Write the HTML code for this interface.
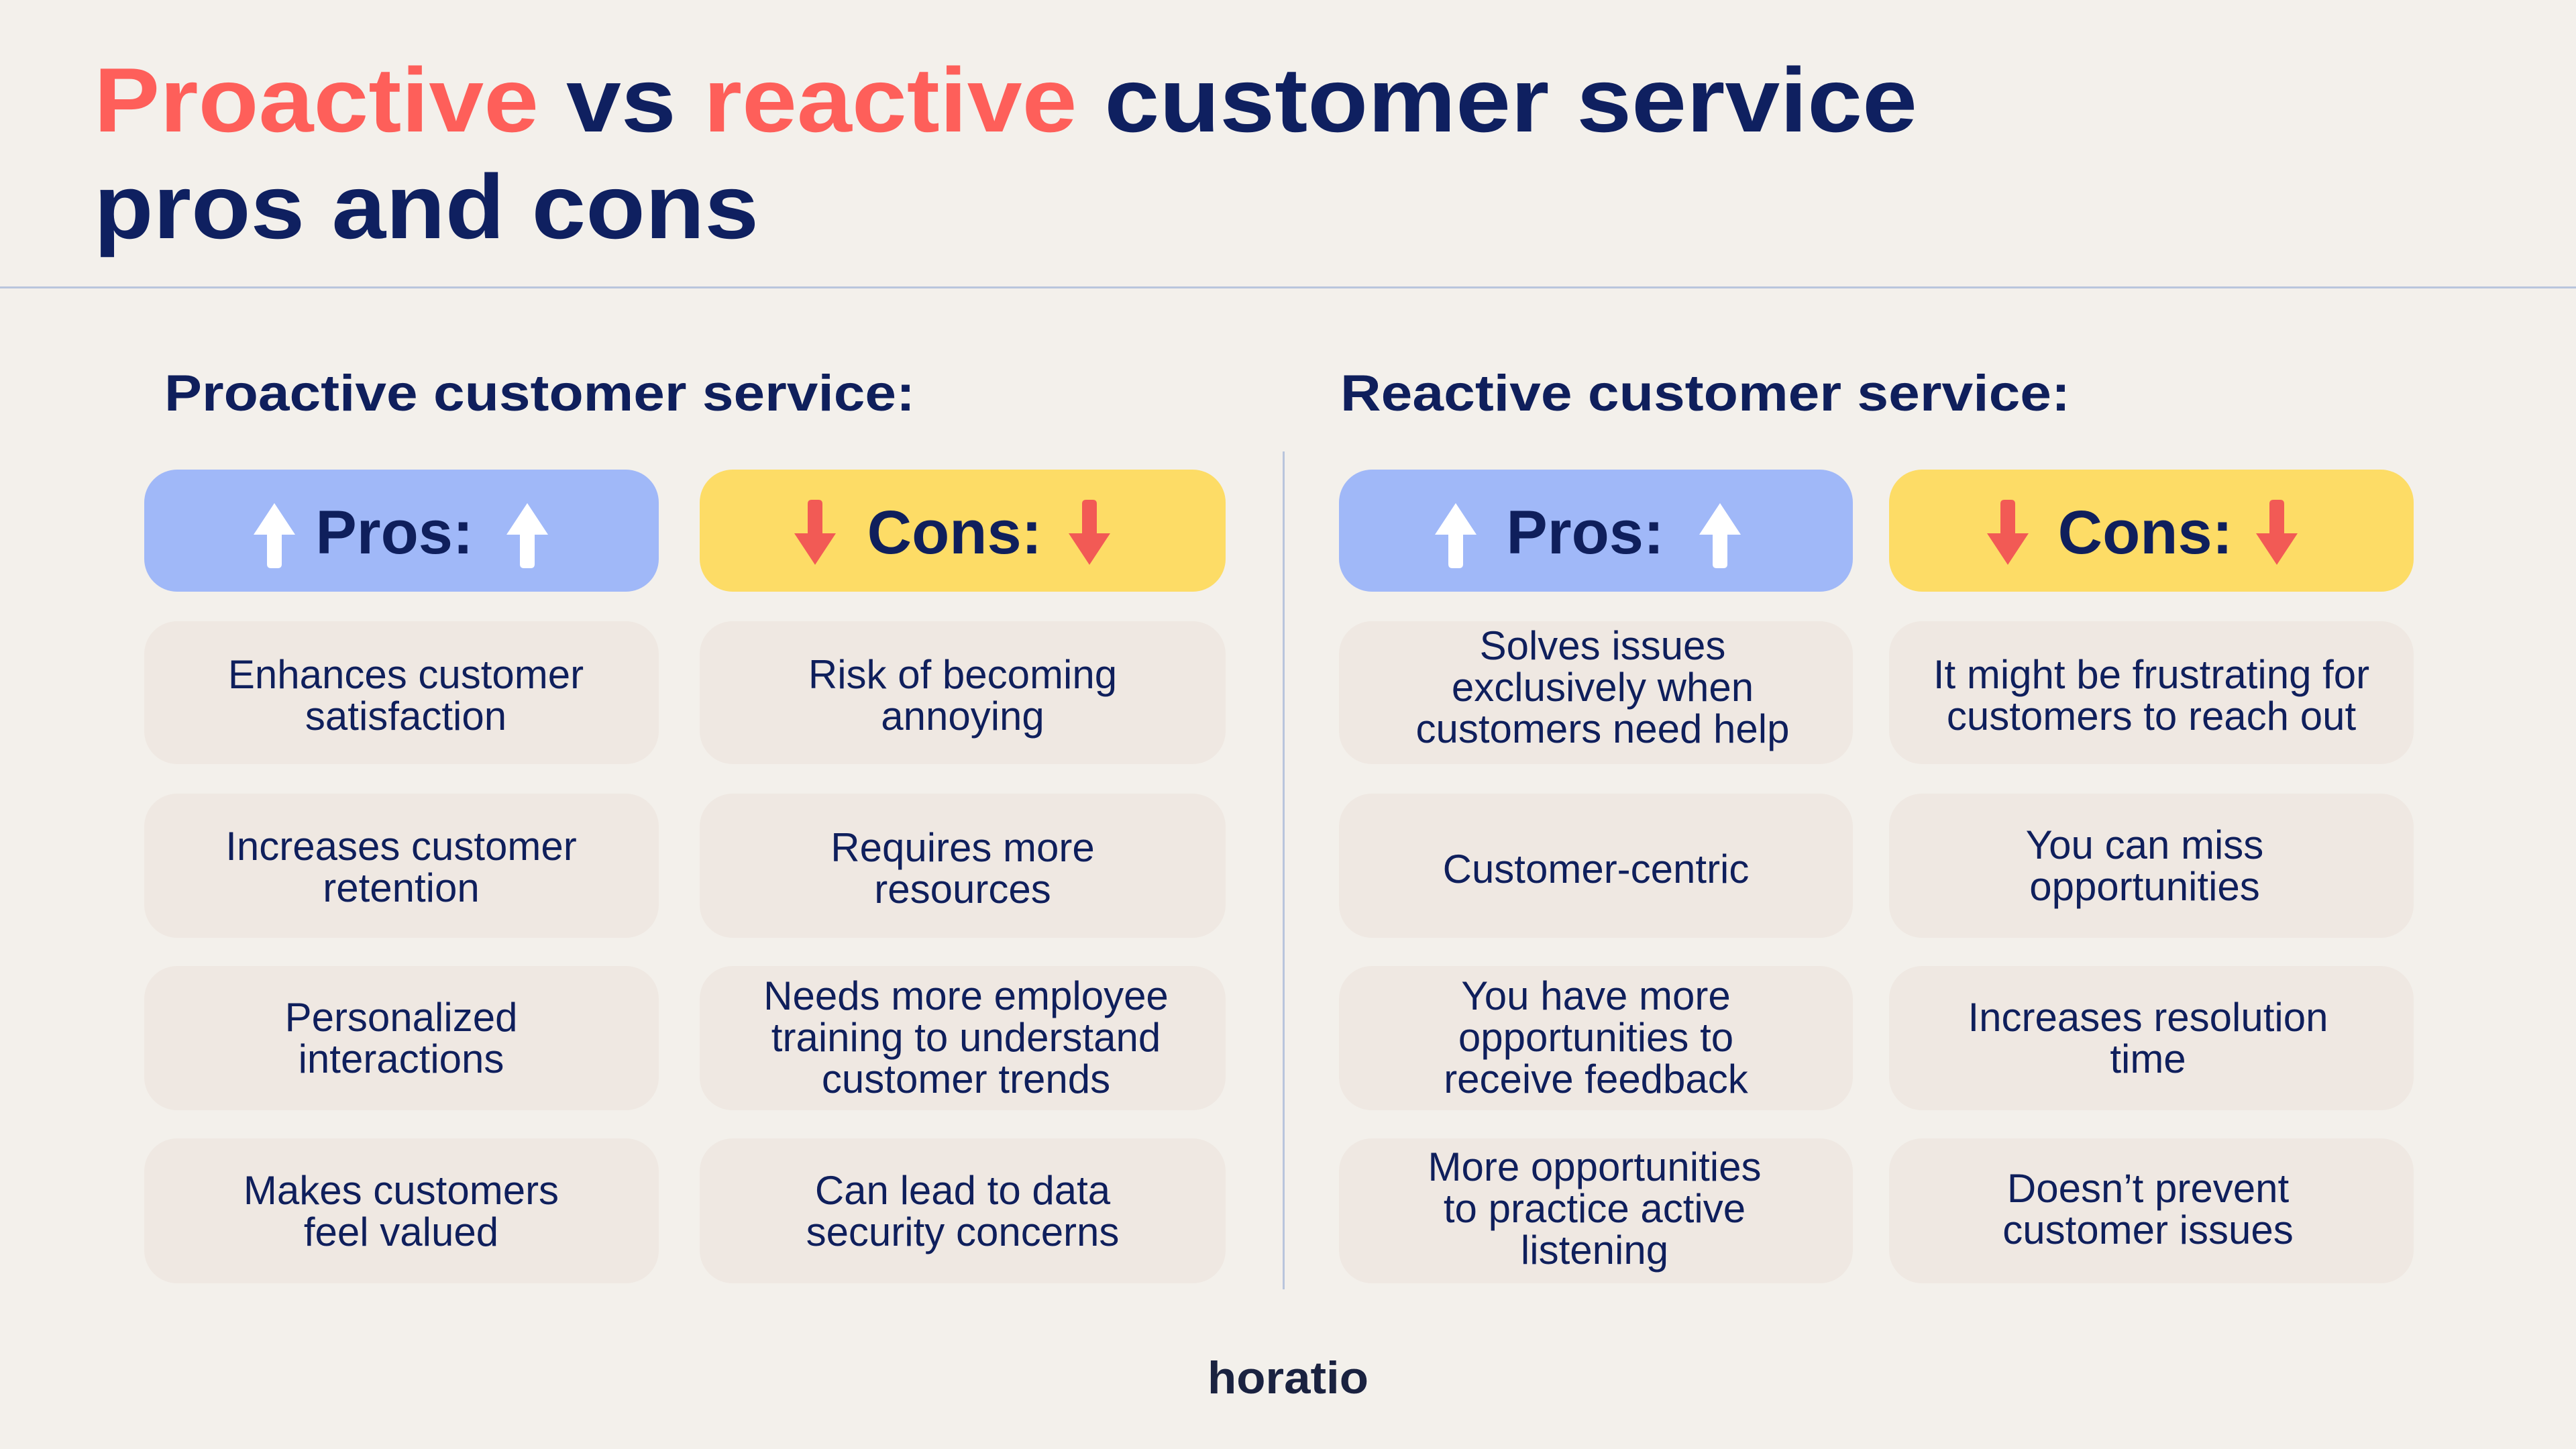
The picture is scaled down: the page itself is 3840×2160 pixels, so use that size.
<!DOCTYPE html>
<html><head><meta charset="utf-8"><style>
html,body{margin:0;padding:0;background:#f3f0eb;}
svg{display:block}
.t{font-family:"Liberation Sans",sans-serif;}
.cell{font-family:"Liberation Sans",sans-serif;font-size:60px;fill:#0f1f5c;text-anchor:middle;}
.hd{font-family:"Liberation Sans",sans-serif;font-size:92px;font-weight:bold;fill:#0f1f5c;text-anchor:middle;}
</style></head><body>
<svg width="3840" height="2160" viewBox="0 0 3840 2160" xmlns="http://www.w3.org/2000/svg">
<defs>
<g id="up"><path d="M0,-47 L31,0 L11,0 L11,44 Q11,50 5,50 L-5,50 Q-11,50 -11,44 L-11,0 L-31,0 Z" fill="#ffffff"/></g>
<g id="dn"><path d="M0,47 L31,0 L11,0 L11,-44 Q11,-50 5,-50 L-5,-50 Q-11,-50 -11,-44 L-11,0 L-31,0 Z" fill="#f25a55"/></g>
</defs>
<rect width="3840" height="2160" fill="#f3f0eb"/>
<text class="t" x="140" y="196" font-size="136" font-weight="bold" textLength="2718" lengthAdjust="spacingAndGlyphs"><tspan fill="#fe5f5a">Proactive</tspan><tspan fill="#0f2060"> vs </tspan><tspan fill="#fe5f5a">reactive</tspan><tspan fill="#0f2060"> customer service</tspan></text>
<text class="t" x="140" y="355" font-size="136" font-weight="bold" fill="#0f2060" textLength="991" lengthAdjust="spacingAndGlyphs">pros and cons</text>
<rect x="0" y="427" width="3840" height="3" fill="#b9c5dc"/>
<text class="t" x="245" y="612" font-size="76" font-weight="bold" fill="#0f1f5c" textLength="1119" lengthAdjust="spacingAndGlyphs">Proactive customer service:</text>
<text class="t" x="1998" y="612" font-size="76" font-weight="bold" fill="#0f1f5c" textLength="1088" lengthAdjust="spacingAndGlyphs">Reactive customer service:</text>
<rect x="1912" y="673" width="3" height="1249" fill="#b9c5dc"/>

<rect x="215" y="700" width="767" height="182" rx="49" fill="#a0b8f8"/>
<rect x="1043" y="700" width="784" height="182" rx="49" fill="#fddc66"/>
<rect x="1996" y="700" width="766" height="182" rx="49" fill="#a0b8f8"/>
<rect x="2816" y="700" width="782" height="182" rx="49" fill="#fddc66"/>
<text class="hd" x="588" y="825">Pros:</text>
<text class="hd" x="1423" y="825">Cons:</text>
<text class="hd" x="2363" y="825">Pros:</text>
<text class="hd" x="3198" y="825">Cons:</text>
<use href="#up" x="409" y="797"/><use href="#up" x="786" y="797"/>
<use href="#dn" x="1215" y="795"/><use href="#dn" x="1624" y="795"/>
<use href="#up" x="2170" y="797"/><use href="#up" x="2564" y="797"/>
<use href="#dn" x="2993" y="795"/><use href="#dn" x="3394" y="795"/>

<g fill="#efe8e2">
<rect x="215" y="926" width="767" height="213" rx="49"/><rect x="1043" y="926" width="784" height="213" rx="49"/><rect x="1996" y="926" width="766" height="213" rx="49"/><rect x="2816" y="926" width="782" height="213" rx="49"/>
<rect x="215" y="1183" width="767" height="215" rx="49"/><rect x="1043" y="1183" width="784" height="215" rx="49"/><rect x="1996" y="1183" width="766" height="215" rx="49"/><rect x="2816" y="1183" width="782" height="215" rx="49"/>
<rect x="215" y="1440" width="767" height="215" rx="49"/><rect x="1043" y="1440" width="784" height="215" rx="49"/><rect x="1996" y="1440" width="766" height="215" rx="49"/><rect x="2816" y="1440" width="782" height="215" rx="49"/>
<rect x="215" y="1697" width="767" height="216" rx="49"/><rect x="1043" y="1697" width="784" height="216" rx="49"/><rect x="1996" y="1697" width="766" height="216" rx="49"/><rect x="2816" y="1697" width="782" height="216" rx="49"/>
</g>

<text class="cell" x="605" y="1026">Enhances customer</text><text class="cell" x="605" y="1088">satisfaction</text>
<text class="cell" x="1435" y="1026">Risk of becoming</text><text class="cell" x="1435" y="1088">annoying</text>
<text class="cell" x="2389" y="983">Solves issues</text><text class="cell" x="2389" y="1045">exclusively when</text><text class="cell" x="2389" y="1107">customers need help</text>
<text class="cell" x="3207" y="1026">It might be frustrating for</text><text class="cell" x="3207" y="1088">customers to reach out</text>

<text class="cell" x="598" y="1282">Increases customer</text><text class="cell" x="598" y="1344">retention</text>
<text class="cell" x="1435" y="1284">Requires more</text><text class="cell" x="1435" y="1346">resources</text>
<text class="cell" x="2379" y="1316">Customer-centric</text>
<text class="cell" x="3197" y="1280">You can miss</text><text class="cell" x="3197" y="1342">opportunities</text>

<text class="cell" x="598" y="1537">Personalized</text><text class="cell" x="598" y="1599">interactions</text>
<text class="cell" x="1440" y="1505">Needs more employee</text><text class="cell" x="1440" y="1567">training to understand</text><text class="cell" x="1440" y="1629">customer trends</text>
<text class="cell" x="2379" y="1505">You have more</text><text class="cell" x="2379" y="1567">opportunities to</text><text class="cell" x="2379" y="1629">receive feedback</text>
<text class="cell" x="3202" y="1537">Increases resolution</text><text class="cell" x="3202" y="1599">time</text>

<text class="cell" x="598" y="1795">Makes customers</text><text class="cell" x="598" y="1857">feel valued</text>
<text class="cell" x="1435" y="1795">Can lead to data</text><text class="cell" x="1435" y="1857">security concerns</text>
<text class="cell" x="2377" y="1760">More opportunities</text><text class="cell" x="2377" y="1822">to practice active</text><text class="cell" x="2377" y="1884">listening</text>
<text class="cell" x="3202" y="1792">Doesn’t prevent</text><text class="cell" x="3202" y="1854">customer issues</text>

<text class="t" x="1920" y="2077" font-size="68" font-weight="bold" fill="#1a2240" text-anchor="middle" textLength="240" lengthAdjust="spacingAndGlyphs">horatio</text>
</svg>
</body></html>
